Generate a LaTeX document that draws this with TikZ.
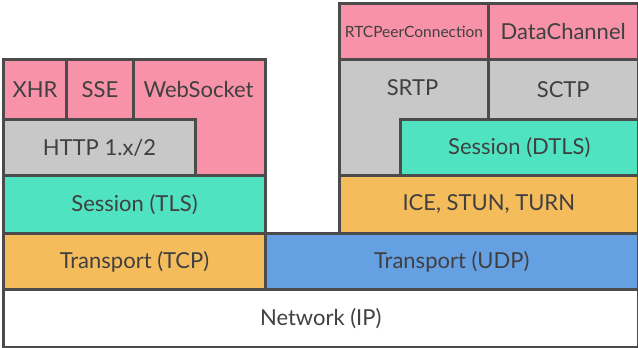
\documentclass[tikz,border=0pt]{standalone}
\usepackage{fontspec}
\setmainfont{Lato}
\begin{document}
\begin{tikzpicture}[x=1pt,y=-1pt,
  box/.style={draw=edge,line width=3pt,inner sep=0pt,anchor=north west,font=\fontsize{22}{25}\selectfont,text=txt},
  lbl/.style={inner sep=0pt,font=\fontsize{22}{25}\selectfont,text=txt}]
\definecolor{edge}{HTML}{4B4B4B}
\definecolor{txt}{HTML}{404040}
\definecolor{cpink}{HTML}{F792A8}
\definecolor{cgray}{HTML}{C8C8C8}
\definecolor{cteal}{HTML}{50E3C2}
\definecolor{corange}{HTML}{F5BC5C}
\definecolor{cblue}{HTML}{65A0E3}
\useasboundingbox (0,0) rectangle (638,348);
\fill[white] (0,0) rectangle (638,348);
% bottom
\node[box,fill=white,minimum width=634.5pt,minimum height=58pt] (ip) at (2,288) {Network (IP)};
\node[box,fill=corange,minimum width=262pt,minimum height=56pt] (tcp) at (2,232) {Transport (TCP)};
\node[box,fill=cblue,minimum width=372.5pt,minimum height=56pt] (udp) at (264,232) {Transport (UDP)};
% left stack
\node[box,fill=cteal,minimum width=262pt,minimum height=58pt] (tls) at (2,174) {Session (TLS)};
\node[box,fill=cpink,minimum width=132pt,minimum height=116pt] (ws) at (132,58) {};
\node[lbl] (wsl) at (198.5,89) {WebSocket};
\node[box,fill=cgray,minimum width=192pt,minimum height=56pt] (http) at (2,118) {HTTP 1.x/2};
\node[box,fill=cpink,minimum width=63pt,minimum height=60pt] (xhr) at (2,58) {XHR};
\node[box,fill=cpink,minimum width=67pt,minimum height=60pt] (sse) at (65,58) {SSE};
% right stack
\node[box,fill=corange,minimum width=298.5pt,minimum height=58pt] (ice) at (338,174) {ICE, STUN, TURN};
\node[box,fill=cgray,minimum width=149pt,minimum height=116pt] (srtp) at (338,58) {};
\node[lbl] (srtpl) at (412.5,88) {SRTP};
\node[box,fill=cgray,minimum width=149.5pt,minimum height=60pt] (sctp) at (487,58) {SCTP};
\node[box,fill=cteal,minimum width=237.5pt,minimum height=56pt] (dtls) at (399,118) {Session (DTLS)};
\node[box,fill=cpink,minimum width=149pt,minimum height=56pt,font=\fontsize{15.5}{18}\selectfont] (rtc) at (338,2) {RTCPeerConnection};
\node[box,fill=cpink,minimum width=149.5pt,minimum height=56pt] (dc) at (487,2) {DataChannel};
\end{tikzpicture}
\end{document}
